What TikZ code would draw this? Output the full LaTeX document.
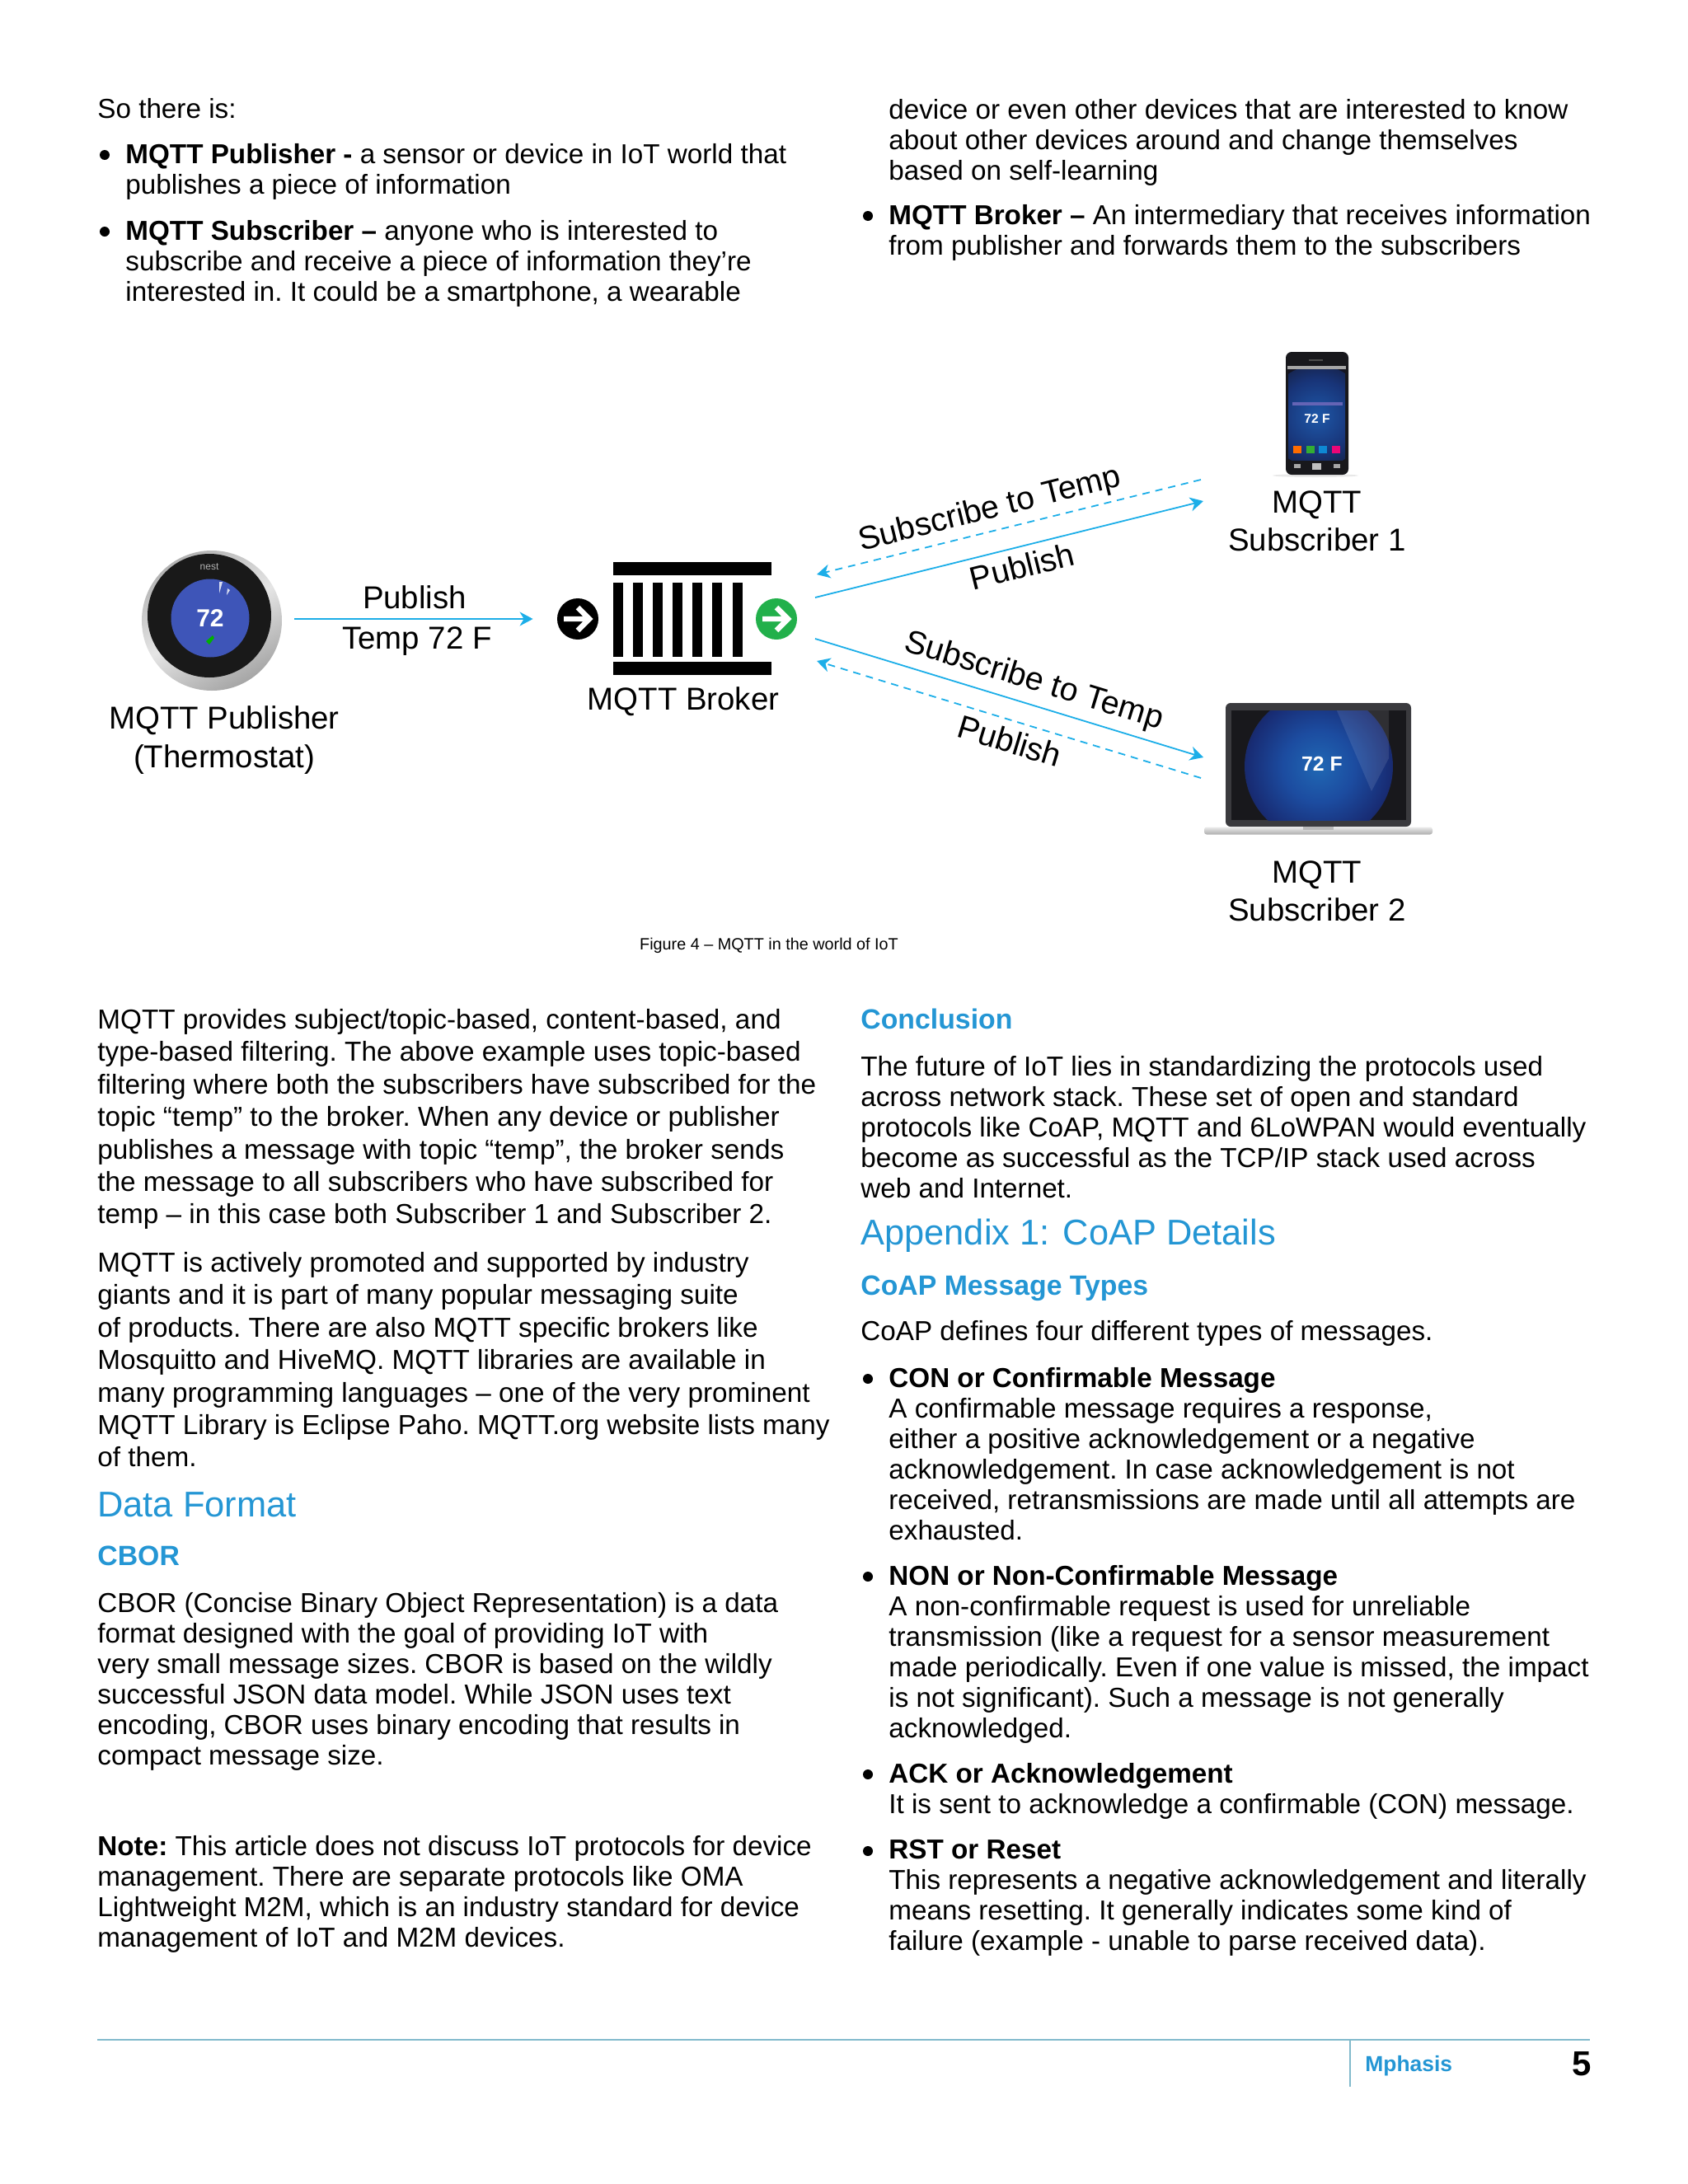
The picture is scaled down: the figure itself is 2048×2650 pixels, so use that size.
\documentclass[tikz,border=0pt]{standalone}
\usepackage{fontspec}
\setmainfont{Liberation Sans}
\usepackage{xcolor}
\usetikzlibrary{arrows.meta,positioning,shapes}
\definecolor{mqblue}{RGB}{28,174,232}
\definecolor{mqhead}{RGB}{36,150,212}
\definecolor{mqrule}{RGB}{130,186,204}
\definecolor{mqgreen}{RGB}{34,176,75}
\definecolor{mqdisc}{RGB}{62,85,184}
\definecolor{mqdark}{RGB}{24,24,28}
\definecolor{mqlid}{RGB}{58,58,62}
\definecolor{glowa}{RGB}{32,104,180}
\definecolor{glowb}{RGB}{28,76,160}
\definecolor{glowc}{RGB}{24,44,116}
\definecolor{phonea}{RGB}{30,88,168}
\definecolor{phoneb}{RGB}{24,52,120}
\definecolor{phonec}{RGB}{20,20,34}
\pgfdeclareradialshading{mqglow}{\pgfpoint{0bp}{0bp}}{color(0bp)=(glowa); color(12bp)=(glowb); color(24bp)=(glowc); color(35bp)=(mqdark); color(50bp)=(mqdark)}
\pgfdeclareradialshading{mqphone}{\pgfpoint{0bp}{0bp}}{color(0bp)=(phonea); color(18bp)=(phoneb); color(35bp)=(phonec); color(50bp)=(phonec)}
\tikzstyle{para} = [anchor=north west, inner sep=0pt, align=left, font=\fontsize{16.62}{18.5}\selectfont\frenchspacing]
\tikzstyle{widepara} = [para, font=\fontsize{16.65}{19.7}\selectfont\frenchspacing]
\tikzstyle{subhead} = [para, text=mqhead, font=\fontsize{16.9}{19}\selectfont\bfseries]
\tikzstyle{bighead} = [para, text=mqhead, font=\fontsize{21.7}{24}\selectfont]
\tikzstyle{blt} = [circle, fill=black, inner sep=0pt, minimum size=6pt]
\tikzstyle{difont} = [inner sep=0pt, align=center, font=\fontsize{19.2}{23.2}\selectfont]
\tikzstyle{slant} = [difont, font=\fontsize{19.7}{23.2}\selectfont]
\tikzstyle{arrow} = [line width=0.9pt, color=mqblue, ->, >={Stealth[length=8pt,width=8.5pt,inset=2.5pt]}]
\tikzstyle{dasharrow} = [arrow, dash pattern=on 4.5pt off 3.5pt]
\newcommand{\whitearrow}[1]{\draw[white, line width=3.2pt, shift={(#1)}] (-17,0) -- (12,0) (0,-14) -- (14,0) -- (0,14);}
\begin{document}
\begin{tikzpicture}[x=0.5pt,y=-0.5pt]
\useasboundingbox (0,0) rectangle (2048,2650);
% Top text
\node (sothere) [para] at (118,119) {So there is:};
\node (b1) [blt] at (127,188) {};
\node (pubtext) [para] at (152,174) {\textbf{MQTT Publisher -} a sensor or device in IoT world that\\publishes a piece of information};
\node (b2) [blt] at (127,281) {};
\node (subtext) [para] at (152,267) {\textbf{MQTT Subscriber –} anyone who is interested to\\subscribe and receive a piece of information they’re\\interested in. It could be a smartphone, a wearable};
\node (devtext) [para] at (1078,120) {device or even other devices that are interested to know\\about other devices around and change themselves\\based on self-learning};
\node (b3) [blt] at (1053,262) {};
\node (brotext) [para] at (1078,248) {\textbf{MQTT Broker –} An intermediary that receives information\\from publisher and forwards them to the subscribers};

% Thermostat
\node (nest) [circle, minimum size=85pt, inner sep=0pt, shading=axis, top color=gray!60, bottom color=gray!70, middle color=gray!20, shading angle=30] at (257,753) {};
\fill[black!90] (254,747) circle (75);
\node (disc) [circle, minimum size=47.5pt, inner sep=0pt, fill=mqdisc] at (255,750) {};
\node (nestlogo) [inner sep=0pt, text=gray!60, font=\fontsize{6}{6}\selectfont] at (254,688) {nest};
\node (nesttemp) [inner sep=0pt, text=white, font=\fontsize{15}{15}\selectfont\bfseries] at (255,750) {72};
\fill[white!80!mqdisc] (266,706) -- (270,706) -- (266,720) -- cycle (276,714) -- (279,716) -- (275,722) -- cycle;
\fill[green!70!black] (250,778) -- (258,771) -- (260,774) -- (254,782) -- cycle;
\node (publabel) [difont] at (272,898) {MQTT Publisher\\(Thermostat)};

% Publish from thermostat
\node (pubword) [difont] at (503,725) {Publish};
\node (tempword) [difont] at (506,778) {Temp 72 F};

% Broker
\fill[black] (744,682) rectangle (936,698);
\fill[black] (744,803) rectangle (936,819);
\fill[black] (744,707) rectangle (756,797);
\fill[black] (768,707) rectangle (780,797);
\fill[black] (792,707) rectangle (804,797);
\fill[black] (816,707) rectangle (828,797);
\fill[black] (840,707) rectangle (852,797);
\fill[black] (864,707) rectangle (876,797);
\fill[black] (889,707) rectangle (901,797);
\node (brokerin) [circle, fill=black, minimum size=25pt, inner sep=0pt] at (701,751) {};
\node (brokerout) [circle, fill=mqgreen, minimum size=25pt, inner sep=0pt] at (942,751) {};
\whitearrow{brokerin.center}
\whitearrow{brokerout.center}
\node (brolabel) [difont] at (829,851) {MQTT Broker};
\draw[arrow, shorten <=7.5pt, shorten >=14.5pt] (nest.east |- brokerin.west) -- (brokerin.west);

% Phone
\fill[gray!18] (1596,577) ellipse (52 and 2);
\node (phone) [rectangle, rounded corners=3.5pt, fill=mqdark, minimum width=38pt, minimum height=74.5pt, inner sep=0pt] at (1598,501.5) {};
\begin{scope}
\clip (1563,448) rectangle (1632,558);
\fill[phonec] (1563,448) rectangle (1632,558);
\shade[shading=mqphone] (1598,505) circle (62);
\end{scope}
\fill[gray!70] (1562,444) rectangle (1633,448);
\fill[black!70] (1588,436) rectangle (1605,438);
\fill[blue!35!gray!90] (1568,488) rectangle (1629,492);
\node (phonetemp) [inner sep=0pt, text=white, font=\fontsize{7.8}{8}\selectfont\bfseries] at (1598,508) {72 F};
\fill[orange!85!red] (1569,541) rectangle (1579,550);
\fill[green!60!black!80] (1585,541) rectangle (1595,550);
\fill[cyan!70!blue] (1600,541) rectangle (1610,550);
\fill[magenta!80!red] (1616,541) rectangle (1626,550);
\fill[gray!70] (1570,563) rectangle (1578,568);
\fill[gray!50] (1592,562) rectangle (1603,570);
\fill[gray!70] (1618,563) rectangle (1626,568);
\node (sub1label) [difont] at (1598,632) {MQTT\\Subscriber 1};

% Laptop
\fill[mqlid, rounded corners=3pt] (1487,1003) -- (1487,853) -- (1712,853) -- (1712,1003) -- cycle;
\begin{scope}
\clip (1494,862) rectangle (1706,995);
\fill[mqdark] (1494,862) rectangle (1706,995);
\shade[shading=mqglow] (1600,930) circle (90);
\fill[white, opacity=0.1] (1618,853) -- (1685,853) -- (1685,920) -- (1664,960) -- cycle;
\end{scope}
\node (laptop) [rectangle, rounded corners=1.5pt, shading=axis, top color=gray!15, bottom color=gray!65, minimum width=138.5pt, minimum height=4.5pt, inner sep=0pt] at (1599.5,1008) {};
\fill[gray!55] (1581,1003) rectangle (1618,1007);
\node (laptemp) [inner sep=0pt, text=white, font=\fontsize{12.4}{13}\selectfont\bfseries] at (1604,927) {72 F};
\node (sub2label) [difont] at (1598,1081) {MQTT\\Subscriber 2};

% Topic traffic
\coordinate (a1) at (989,725);
\coordinate (a2) at (1460,608);
\coordinate (b4) at (1457,582);
\coordinate (b5) at (991,697);
\coordinate (c1) at (989,775);
\coordinate (c2) at (1460,919);
\coordinate (d1) at (1457,944);
\coordinate (d2) at (991,802);
\draw[arrow] (a1) -- (a2);
\draw[dasharrow] (b4) -- (b5);
\draw[arrow] (c1) -- (c2);
\draw[dasharrow] (d1) -- (d2);
\node (subtemp1) [slant, rotate=14] at (1201,619) {Subscribe to Temp};
\node (pubup) [slant, rotate=14] at (1240,687) {Publish};
\node (subtemp2) [slant, rotate=-17] at (1254,827) {Subscribe to Temp};
\node (publow) [slant, rotate=-17] at (1225,899) {Publish};
\node (figcap) [inner sep=0pt, font=\fontsize{9.9}{12}\selectfont] at (933,1147) {Figure 4 – MQTT in the world of IoT};

% Left column
\node (filter) [widepara] at (118,1224) {MQTT provides subject/topic-based, content-based, and\\type-based filtering. The above example uses topic-based\\filtering where both the subscribers have subscribed for the\\topic “temp” to the broker. When any device or publisher\\publishes a message with topic “temp”, the broker sends\\the message to all subscribers who have subscribed for\\temp – in this case both Subscriber 1 and Subscriber 2.};
\node (promo) [widepara] at (118,1519) {MQTT is actively promoted and supported by industry\\giants and it is part of many popular messaging suite\\of products. There are also MQTT specific brokers like\\Mosquitto and HiveMQ. MQTT libraries are available in\\many programming languages – one of the very prominent\\MQTT Library is Eclipse Paho. MQTT.org website lists many\\of them.};
\node (datafmt) [bighead] at (118,1810) {Data Format};
\node (cbor) [subhead] at (118,1875) {CBOR};
\node (cbortext) [para] at (118,1932) {CBOR (Concise Binary Object Representation) is a data\\format designed with the goal of providing IoT with\\very small message sizes. CBOR is based on the wildly\\successful JSON data model. While JSON uses text\\encoding, CBOR uses binary encoding that results in\\compact message size.};
\node (note) [para] at (118,2227) {\textbf{Note:} This article does not discuss IoT protocols for device\\management. There are separate protocols like OMA\\Lightweight M2M, which is an industry standard for device\\management of IoT and M2M devices.};

% Right column
\node (concl) [subhead] at (1044,1224) {Conclusion};
\node (concltext) [para] at (1044,1281) {The future of IoT lies in standardizing the protocols used\\across network stack. These set of open and standard\\protocols like CoAP, MQTT and 6LoWPAN would eventually\\become as successful as the TCP/IP stack used across\\web and Internet.};
\node (append) [bighead] at (1044,1479) {Appendix 1: CoAP Details};
\node (msgtypes) [subhead] at (1044,1547) {CoAP Message Types};
\node (four) [para] at (1044,1602) {CoAP defines four different types of messages.};
\node (b6) [blt] at (1053,1673) {};
\node (con) [para] at (1078,1659) {\textbf{CON or Confirmable Message}\\A confirmable message requires a response,\\either a positive acknowledgement or a negative\\acknowledgement. In case acknowledgement is not\\received, retransmissions are made until all attempts are\\exhausted.};
\node (b7) [blt] at (1053,1913) {};
\node (non) [para] at (1078,1899) {\textbf{NON or Non-Confirmable Message}\\A non-confirmable request is used for unreliable\\transmission (like a request for a sensor measurement\\made periodically. Even if one value is missed, the impact\\is not significant). Such a message is not generally\\acknowledged.};
\node (b8) [blt] at (1053,2153) {};
\node (ack) [para] at (1078,2139) {\textbf{ACK or Acknowledgement}\\It is sent to acknowledge a confirmable (CON) message.};
\node (b9) [blt] at (1053,2246) {};
\node (rst) [para] at (1078,2232) {\textbf{RST or Reset}\\This represents a negative acknowledgement and literally\\means resetting. It generally indicates some kind of\\failure (example - unable to parse received data).};

% Footer
\coordinate (ruleL) at (118,2475);
\coordinate (ruleR) at (1929,2475);
\coordinate (ruleT) at (1638,2475);
\coordinate (ruleB) at (1638,2532);
\draw[mqrule, line width=0.7pt] (ruleL) -- (ruleR);
\draw[mqrule, line width=0.7pt] (ruleT) -- (ruleB);
\node (brand) [anchor=base west, inner sep=0pt, text=mqhead, font=\fontsize{13.2}{13}\selectfont\bfseries] at (1656,2513) {Mphasis};
\node (pageno) [anchor=base east, inner sep=0pt, font=\fontsize{21}{21}\selectfont\bfseries] at (1931,2518) {5};
\end{tikzpicture}
\end{document}
